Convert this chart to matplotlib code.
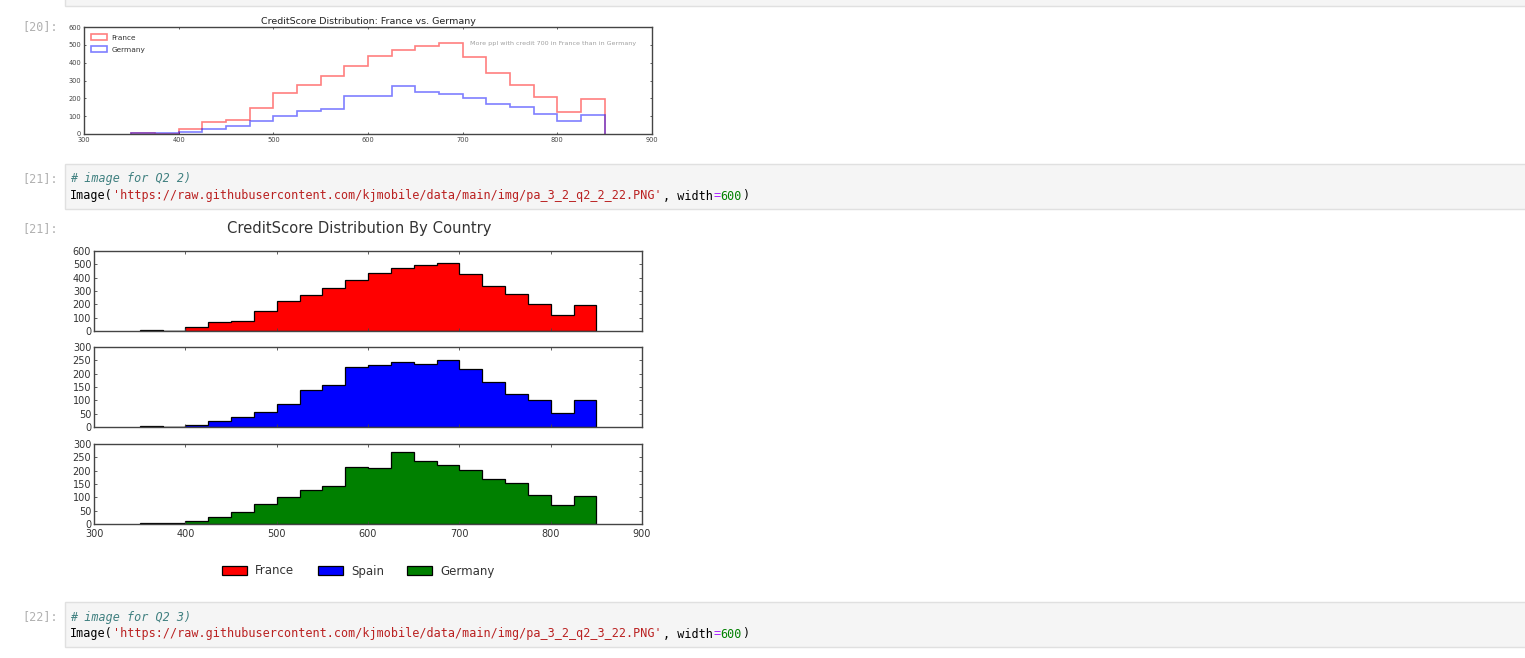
import matplotlib
matplotlib.use("Agg")
import matplotlib.pyplot as plt
from matplotlib.patches import Rectangle

W, H = 1525, 658

# bin edges and counts
edges = list(range(350, 875, 25))
france = [8, 2, 28, 65, 78, 147, 228, 272, 325, 380, 437, 473, 495, 508, 430, 340, 277, 205, 123, 198]
spain = [5, 1, 8, 24, 38, 56, 85, 140, 158, 225, 232, 243, 236, 250, 217, 170, 125, 100, 53, 100]
germany = [3, 3, 10, 28, 46, 75, 102, 127, 142, 215, 211, 270, 238, 222, 202, 167, 154, 110, 73, 105]
bins_x = edges[:-1]

xticks = [300, 400, 500, 600, 700, 800, 900]
yticks_big = [0, 100, 200, 300, 400, 500, 600]
yticks_small = [0, 50, 100, 150, 200, 250, 300]

plt.rcParams["font.family"] = "DejaVu Sans"
fig = plt.figure(figsize=(W / 100, H / 100), dpi=100, facecolor="white")


def make_axes(left, top, right, bottom):
    """Axes from pixel box, y measured from the top of the picture."""
    ax = fig.add_axes([left / W, 1 - bottom / H, (right - left) / W, (bottom - top) / H])
    ax.set_xlim(300, 900)
    ax.set_xticks(xticks)
    ax.tick_params(direction="in", top=True, right=True, length=2.5, width=0.6, colors="#444444")
    for s in ax.spines.values():
        s.set_linewidth(1.0)
        s.set_color("#444444")
    return ax


def label(x, y, text, **kw):
    fig.text(x / W, 1 - y / H, text, va="center", **kw)


def code_line(x, y, parts, size=8.5, step=7.15):
    """Coloured code pieces, placed by char count since the font is monospace."""
    for text, color, style in parts:
        label(x, y, text, color=color, style=style, size=size, family="DejaVu Sans Mono")
        x += len(text) * step


# notebook cells
gray_boxes = [(65, -5, 1530, 6), (65, 164, 1530, 209), (65, 602, 1530, 647)]
for x0, y0, x1, y1 in gray_boxes:
    fig.add_artist(Rectangle((x0 / W, 1 - y1 / H), (x1 - x0) / W, (y1 - y0) / H, transform=fig.transFigure,
                             facecolor="#f5f5f5", edgecolor="#e0e0e0", linewidth=1))

prompt = dict(color="#b0b0b0", size=8.45, family="DejaVu Sans Mono")
label(22, 27, "[20]:", **prompt)
label(22, 179, "[21]:", **prompt)
label(22, 229, "[21]:", **prompt)
label(22, 617, "[22]:", **prompt)

comment = "#408080"
string = "#ba2121"
code_line(70, 179, [("# image for Q2 2)", comment, "italic")])
code_line(70, 196, [("Image(", "black", "normal"),
                    ("'https://raw.githubusercontent.com/kjmobile/data/main/img/pa_3_2_q2_2_22.PNG'", string, "normal"),
                    (", width", "black", "normal"), ("=", "#aa22ff", "normal"), ("600", "#008000", "normal"),
                    (")", "black", "normal")])
code_line(70, 617, [("# image for Q2 3)", comment, "italic")])
code_line(70, 634, [("Image(", "black", "normal"),
                    ("'https://raw.githubusercontent.com/kjmobile/data/main/img/pa_3_2_q2_3_22.PNG'", string, "normal"),
                    (", width", "black", "normal"), ("=", "#aa22ff", "normal"), ("600", "#008000", "normal"),
                    (")", "black", "normal")])

# first output: outlines
ax = make_axes(84, 27, 652, 134)
ax.hist(bins_x, bins=edges, weights=france, histtype="step", color="red", alpha=0.5, linewidth=1.2, label="France")
ax.hist(bins_x, bins=edges, weights=germany, histtype="step", color="blue", alpha=0.5, linewidth=1.2, label="Germany")
ax.set_ylim(0, 600)
ax.set_yticks(yticks_big)
ax.tick_params(labelsize=4.8, pad=2, length=1.5)
ax.set_title("CreditScore Distribution: France vs. Germany", fontsize=6.8, color="#222222", pad=2)
ax.text(0.972, 0.85, "More ppl with credit 700 in France than in Germany", transform=ax.transAxes,
        fontsize=4.6, color="#a0a0a0", ha="right", va="center")
ax.legend(loc="upper left", frameon=False, fontsize=5.3, labelcolor="#333333", handlelength=2.1,
          handletextpad=0.6, borderaxespad=0.5, labelspacing=0.8, borderpad=0.5)

# second output: filled panels
rows = [(france, "red", "France", yticks_big, 251, 331),
        (spain, "blue", "Spain", yticks_small, 347, 427),
        (germany, "green", "Germany", yticks_small, 444, 524)]
handles = []
for values, color, name, yticks, top, bottom in rows:
    ax = make_axes(94, top, 642, bottom)
    n, b, patches = ax.hist(bins_x, bins=edges, weights=values, histtype="stepfilled", facecolor=color,
                            edgecolor="black", linewidth=0.9, label=name)
    handles.append(patches[0])
    ax.set_ylim(0, yticks[-1])
    ax.set_yticks(yticks)
    ax.tick_params(labelsize=7.0, pad=2, labelcolor="#333333")
    ax.tick_params(axis="x", pad=3.5)
    if name != "Germany":
        ax.tick_params(labelbottom=False)

fig.text(359 / W, 1 - 229 / H, "CreditScore Distribution By Country", fontsize=10.6, color="#333333",
         ha="center", va="center")
fig.legend(handles, [r[2] for r in rows], loc="center", bbox_to_anchor=(358.5 / W, 1 - 571 / H), ncol=3, frameon=False,
           fontsize=8.5, labelcolor="#333333", handlelength=2.1, handleheight=0.8, columnspacing=2.0, handletextpad=0.68)

fig.savefig("out.png", dpi=100)
